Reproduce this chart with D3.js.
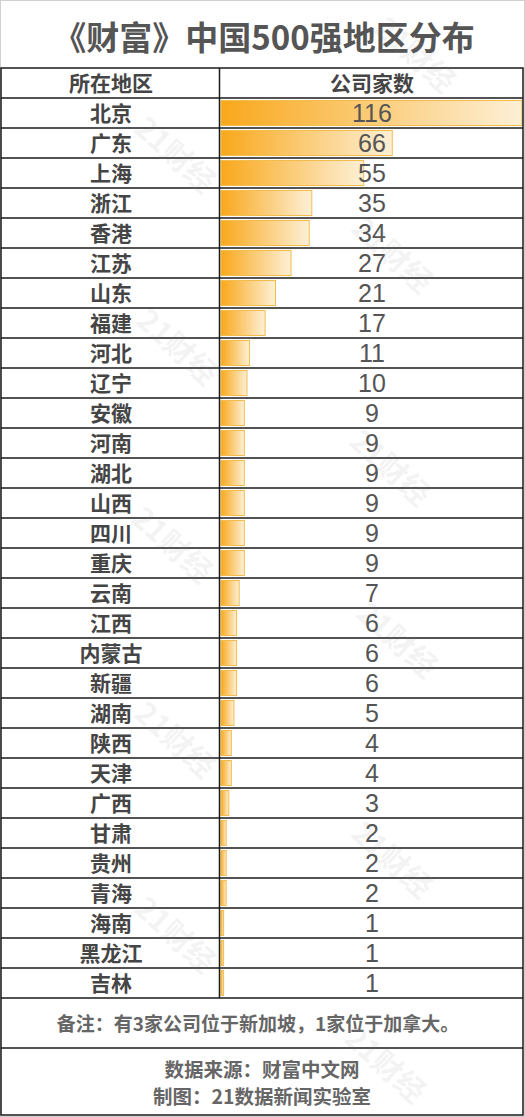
<!DOCTYPE html>
<html><head><meta charset="utf-8">
<script src="https://cdn.jsdelivr.net/npm/d3@7"></script>
<style>body{margin:0;background:#fff}svg{display:block}</style>
</head><body>
<script>
const title = "《财富》中国500强地区分布";
const headers = ["所在地区", "公司家数"];
const regions = ["北京","广东","上海","浙江","香港","江苏","山东","福建","河北","辽宁","安徽","河南","湖北","山西","四川","重庆","云南","江西","内蒙古","新疆","湖南","陕西","天津","广西","甘肃","贵州","青海","海南","黑龙江","吉林"];
const counts = [116,66,55,35,34,27,21,17,11,10,9,9,9,9,9,9,7,6,6,6,5,4,4,3,2,2,2,1,1,1];
const note = "备注：有3家公司位于新加坡，1家位于加拿大。";
const footer = ["数据来源：财富中文网", "制图：21数据新闻实验室"];
const watermark = "21财经";

const W = 525, H = 1117;
const font = "'Noto Sans CJK SC', 'Noto Sans', sans-serif";
const svg = d3.select("body").append("svg").attr("width", W).attr("height", H);

const defs = svg.append("defs");
const grad = defs.append("linearGradient").attr("id","barGrad").attr("x1","0").attr("x2","1").attr("y1","0").attr("y2","0");
grad.append("stop").attr("offset","0%").attr("stop-color","#f9a81c");
grad.append("stop").attr("offset","100%").attr("stop-color","#fdf0d6");

// outer light border
svg.append("rect").attr("x",0.5).attr("y",0.5).attr("width",W-1).attr("height",H-1)
  .attr("fill","#fff").attr("stroke","#d0d0d0");

svg.append("text").attr("x", 264).attr("y", 50).attr("text-anchor","middle")
  .attr("font-family", font).attr("font-weight","bold").attr("font-size", 33)
  .attr("fill","#555").text(title);

const tableTop = 68, headerH = 30, rowH = 30;
const left = 1, right = 523, divX = 219.5;
const rowsTop = tableTop + headerH;

const y = d3.scaleBand().domain(regions).range([rowsTop, rowsTop + rowH*regions.length]);
const x = d3.scaleLinear().domain([0, d3.max(counts)]).range([221, 522]);

const noteTop = y.range()[1], noteBot = noteTop + 50, footBot = 1115;

// bars
svg.append("g").selectAll("rect").data(regions).join("rect")
  .attr("x", x(0)).attr("y", d => y(d) + 2.5)
  .attr("width", (d,i) => x(counts[i]) - x(0)).attr("height", y.bandwidth() - 5)
  .attr("fill","url(#barGrad)").attr("stroke","#f2bd4c").attr("stroke-width",1);

// region labels
svg.append("g").selectAll("text").data(regions).join("text")
  .attr("x", 111).attr("y", d => y(d) + y.bandwidth()/2 + 7.5)
  .attr("text-anchor","middle").attr("font-family", font).attr("font-weight","bold")
  .attr("font-size", 21).attr("fill","#454545").text(d => d);

// values
svg.append("g").selectAll("text").data(regions).join("text")
  .attr("x", 372).attr("y", d => y(d) + y.bandwidth()/2 + 9)
  .attr("text-anchor","middle").attr("font-family", "'Liberation Sans', Arial, sans-serif")
  .attr("font-size", 25).attr("fill","#555").text((d,i) => counts[i]);

// headers
svg.append("text").attr("x",111).attr("y",tableTop + 22.5).attr("text-anchor","middle")
  .attr("font-family", font).attr("font-weight","bold").attr("font-size",21).attr("fill","#454545").text(headers[0]);
svg.append("text").attr("x",372).attr("y",tableTop + 22.5).attr("text-anchor","middle")
  .attr("font-family", font).attr("font-weight","bold").attr("font-size",21).attr("fill","#454545").text(headers[1]);

// grid lines
const g = svg.append("g").attr("stroke","#1a1a1a").attr("stroke-width",1.5).attr("fill","none");
g.append("rect").attr("x",left).attr("y",tableTop).attr("width",right-left).attr("height",footBot-tableTop);
const hLines = [rowsTop, ...regions.map(r => y(r) + rowH), noteBot];
g.selectAll("line.h").data(hLines).join("line").attr("class","h")
  .attr("x1",left).attr("x2",right).attr("y1",d=>d).attr("y2",d=>d);
g.append("line").attr("x1",divX).attr("x2",divX).attr("y1",tableTop).attr("y2",noteTop);

// note
svg.append("text").attr("x",258).attr("y",noteTop + 33).attr("text-anchor","middle")
  .attr("font-family", font).attr("font-weight","bold").attr("font-size",19).attr("fill","#666").text(note);
footer.forEach((t,i) => {
  svg.append("text").attr("x",262).attr("y",noteBot + 29 + i*27).attr("text-anchor","middle")
    .attr("font-family", font).attr("font-weight","bold").attr("font-size",19.5).attr("fill","#666").text(t);
});

// watermarks
const wmPos = [[175,155],[415,55],[392,255],[177,347],[390,468],[172,545],[397,640],[175,740],[392,860],[175,935],[385,1065]];
svg.append("g").selectAll("text").data(wmPos).join("text")
  .attr("transform", d => `translate(${d[0]},${d[1]}) rotate(42)`)
  .attr("text-anchor","middle").attr("dy","0.35em")
  .attr("font-family", font).attr("font-weight","bold").attr("font-size",30)
  .attr("fill","#888").attr("fill-opacity",0.1).text(watermark);
</script>
</body></html>
